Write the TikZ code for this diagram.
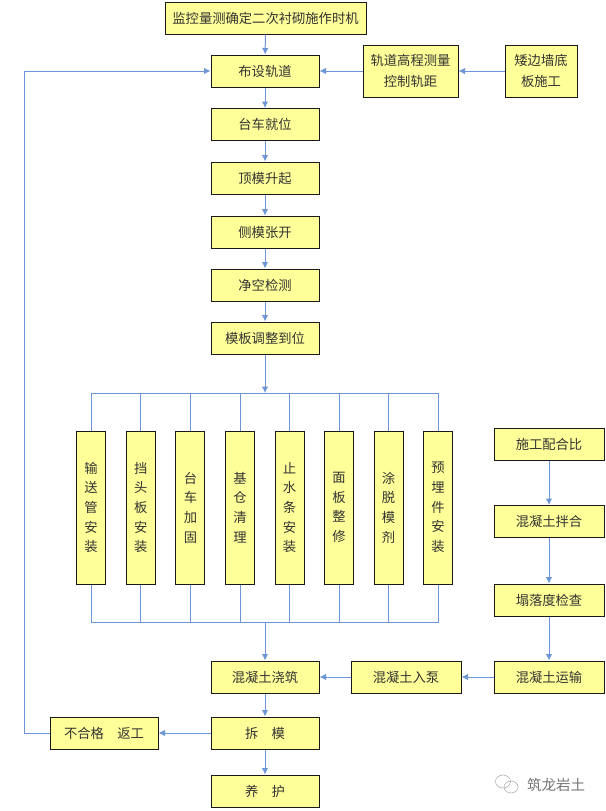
\documentclass[tikz,border=0pt]{standalone}
\usepackage{fontspec}
\setmainfont{Noto Sans CJK SC}[Scale=1]
\usepackage{xcolor}
\usetikzlibrary{positioning,calc,arrows.meta}
\definecolor{boxfill}{HTML}{FFFF99}
\definecolor{flowline}{HTML}{6C96D6}
\tikzset{
    flowbox/.style={draw=black!90, line width=1pt, fill=boxfill, text=black!80, inner sep=0pt, font=\fontsize{13.3}{21}\selectfont, align=center},
    widebox/.style={flowbox, minimum width=108, minimum height=32},
    tallbox/.style={flowbox, minimum width=29, minimum height=153, font=\fontsize{13.3}{19.7}\selectfont},
    flow/.style={draw=flowline, line width=1pt, -{Latex[length=6.5pt,width=6.5pt]}},
    link/.style={draw=flowline, line width=1pt}
}
\begin{document}
\begin{tikzpicture}[x=1pt, y=-1pt]
    \useasboundingbox (0,0) rectangle (605,811);

    % Main column
    \node [flowbox, minimum width=201, minimum height=32] (timing) at (265.5,18) {监控量测确定二次衬砌施作时机};
    \foreach \y/\nm/\lab in {71/track/布设轨道, 124.5/trolley/台车就位, 178/lift/顶模升起, 232/side/侧模张开, 285/gauge/净空检测, 338/adjust/模板调整到位, 677/pour/混凝土浇筑, 733/strip/拆\quad 模, 791/cure/养\quad 护} {
        \node [widebox] (\nm) at (265,\y) {\lab};
    }

    % Upper right
    \node [flowbox, minimum width=95, minimum height=52] (survey) at (410.5,71) {轨道高程测量\\控制轨距};
    \node [flowbox, minimum width=72, minimum height=52] (kerb) at (541,71) {矮边墙底\\板施工};

    % Parallel tasks
    \foreach \x/\nm/\lab in {91/conv/输\\送\\管\\安\\装, 140.7/stop/挡\\头\\板\\安\\装, 190.4/brace/台\\车\\加\\固, 240/clean/基\\仓\\清\\理, 289.5/seal/止\\水\\条\\安\\装, 339/panel/面\\板\\整\\修, 388.6/agent/涂\\脱\\模\\剂, 438/embed/预\\埋\\件\\安\\装} {
        \node [tallbox] (\nm) at (\x,507.5) {\lab};
    }
    \coordinate (bustop) at (265,393);
    \coordinate (busbot) at (265,622);

    % Right column
    \foreach \y/\nm/\lab in {444/ratio/施工配合比, 521.5/mix/混凝土拌合, 600/slump/塌落度检查, 677/haul/混凝土运输} {
        \node [widebox, minimum width=110] (\nm) at (549,\y) {\lab};
    }
    \node [widebox, minimum width=110] (pump) at (406,677) {混凝土入泵};
    \node [widebox] (fail) at (104,733) {不合格\quad 返工};
    \coordinate (back) at (24,733);

    % Connectors
    \draw [flow] (timing) -- (track);
    \draw [flow] (survey) -- (track);
    \draw [flow] (kerb) -- (survey);
    \draw [flow] (track) -- (trolley);
    \draw [flow] (trolley) -- (lift);
    \draw [flow] (lift) -- (side);
    \draw [flow] (side) -- (gauge);
    \draw [flow] (gauge) -- (adjust);
    \draw [flow] (adjust) -- (bustop);
    \foreach \nm in {conv,stop,brace,clean,seal,panel,agent,embed} {
        \draw [link] (\nm.north) |- (bustop);
        \draw [link] (\nm.south) |- (busbot);
    }
    \draw [flow] (busbot) -- (pour);
    \draw [flow] (ratio) -- (mix);
    \draw [flow] (mix) -- (slump);
    \draw [flow] (slump) -- (haul);
    \draw [flow] (haul) -- (pump);
    \draw [flow] (pump) -- (pour);
    \draw [flow] (pour) -- (strip);
    \draw [flow] (strip) -- (cure);
    \draw [flow] (strip) -- (fail);
    \draw [flow] (fail) -- (back) |- (track);

    % Watermark
    \node [text=black!55, font=\fontsize{14.5}{16}\selectfont, inner sep=0pt] (mark) at (556,785) {筑龙岩土};
    \draw [black!30, line width=0.6pt] (503,781.5) ellipse [x radius=7.5, y radius=6.5];
    \draw [black!30, line width=0.6pt] (511,787) ellipse [x radius=7, y radius=6];
\end{tikzpicture}
\end{document}
